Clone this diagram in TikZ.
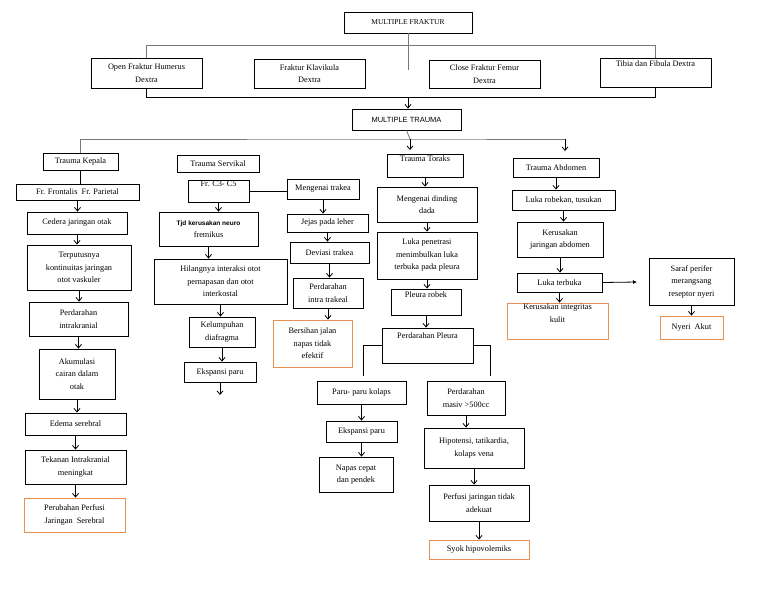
\documentclass[tikz,border=0pt]{standalone}
\usepackage{fontspec}
\setmainfont{Liberation Serif}
\newfontfamily\sansb{Liberation Sans}
\usetikzlibrary{arrows.meta}
\definecolor{orng}{RGB}{233,145,85}
\definecolor{lgray}{RGB}{120,120,120}
\newcommand\bx[7][]{\node[box,#1,minimum width={((#5)-(#3))*1pt},minimum height={((#6)-(#4))*1pt}] (#2) at ({((#3)+(#5))/2},{((#4)+(#6))/2}) {#7};}
\begin{document}
\begin{tikzpicture}[x=1pt,y=-1pt,
  box/.style={draw,line width=0.9pt,inner sep=1pt,align=center,font=\fontsize{8.3}{12.5}\selectfont},
  ob/.style={draw=orng},
  ln/.style={line width=0.8pt},
  gl/.style={line width=0.8pt,draw=lgray},
  arr/.style={line width=0.8pt,-{Straight Barb[length=3.5pt,width=6pt]}}]
\useasboundingbox (0,0) rectangle (768,594);
% top
\bx{mf}{344}{12}{472}{33}{\fontsize{7.5}{9}\selectfont MULTIPLE FRAKTUR}
\bx{b1}{91}{58}{202}{88}{Open Fraktur Humerus\\Dextra}
\bx{b2}{254}{59}{365}{88}{Fraktur Klavikula\\Dextra}
\bx{b3}{429}{60}{540}{88}{Close Fraktur Femur\\Dextra}
\bx{b4}{600}{58}{711}{87}{Tibia dan Fibula Dextra\\[6pt]}
\bx{mt}{352}{109}{461}{130}{\sansb\fontsize{7.5}{9}\selectfont MULTIPLE TRAUMA}
\coordinate (tb) at (408,70);
\coordinate (lb) at (408,97);
\draw[gl] (mf.south) -- (tb);
\draw[gl] (b1.north) -- ++(0,-12) -| (b4.north);
\draw[ln] (b1.south) -- ++(0,9) -| (b4.south);
\draw[arr] (lb) -- (lb |- mt.north);
% level 2
\bx{kep}{43}{153}{118}{170}{Trauma Kepala}
\bx{ser}{177}{155}{259}{172}{Trauma Servikal}
\bx{tor}{387}{155}{463}{177}{Trauma Toraks\\[3pt]}
\bx{abd}{513}{158}{599}{177}{Trauma Abdomen}
\coordinate (mtb) at (410,139);
\coordinate (mtr) at (565,139);
\draw[gl] (mt.south) -- (mtb);
\draw[gl] (kep.north) |- (mtb) -- (mtr);
\draw[arr] (mtb) -- (mtb |- 0,150);
\draw[arr] (mtr) -- (mtr |- 0,151);
% kepala
\bx{fr}{16}{184}{139}{200}{Fr. Frontalis~ Fr. Parietal}
\bx{ced}{27}{212}{127}{234}{Cedera jaringan otak}
\bx{ter}{27}{245}{131}{290}{Terputusnya\\kontinuitas jaringan\\otot vaskuler}
\bx{pik}{29}{302}{128}{336}{Perdarahan\\intrakranial}
\bx{aku}{39}{349}{115}{399}{Akumulasi\\cairan dalam\\otak}
\bx{ede}{25}{413}{126}{435}{Edema serebral}
\bx{tek}{25}{450}{126}{484}{Tekanan Intrakranial\\meningkat}
\bx[ob]{pjs}{24}{498}{125}{532}{Perubahan Perfusi\\Jaringan~ Serebral}
\draw[ln] (kep.south) -- (kep.south |- fr.north);
\foreach \a/\b in {fr/ced,ced/ter,ter/pik,pik/aku,aku/ede,ede/tek,tek/pjs}
  \draw[arr] (\a.south) -- (\a.south |- \b.north);
% servikal
\bx{c3}{188}{182}{249}{201}{Fr. C3- C5\\[2pt]}
\bx{tjd}{159}{212}{258}{246}{\sansb\bfseries\fontsize{6.5}{13}\selectfont Tjd kerusakan neuro\\fremikus}
\bx{hil}{154}{259}{287}{304}{Hilangnya interaksi otot\\pernapasan dan otot\\interkostal}
\bx{kel}{189}{317}{255}{347}{Kelumpuhan\\diafragma}
\bx{eks1}{184}{362}{256}{382}{Ekspansi paru}
\coordinate (e1e) at (220,395);
\foreach \a/\b in {c3/tjd,tjd/hil,hil/kel,kel/eks1}
  \draw[arr] (\a.south) -- (\a.south |- \b.north);
\draw[arr] (eks1.south) -- (e1e);
\bx{men}{287}{179}{359}{199}{Mengenai trakea}
\bx{jej}{287}{214}{368}{232}{Jejas pada leher}
\bx{dev}{290}{242}{369}{263}{Deviasi trakea}
\bx{pit}{293}{278}{363}{308}{Perdarahan\\intra trakeal}
\bx[ob]{ber}{273}{320}{352}{367}{Bersihan jalan\\napas tidak\\efektif}
\draw[ln] (c3.east) -- (c3.east -| men.west);
\foreach \a/\b in {men/jej,jej/dev,dev/pit,pit/ber}
  \draw[arr] (\a.south) -- (\a.south |- \b.north);
% toraks
\bx{mdd}{377}{187}{477}{222}{Mengenai dinding\\dada}
\bx{lpe}{377}{232}{477}{279}{Luka penetrasi\\menimbulkan luka\\terbuka pada pleura}
\bx{pr}{391}{289}{461}{315}{Pleura robek\\[3pt]}
\bx{pp}{382}{328}{473}{363}{Perdarahan Pleura\\[8pt]}
\foreach \a/\b in {tor/mdd,mdd/lpe,lpe/pr,pr/pp}
  \draw[arr] (\a.south) -- (\a.south |- \b.north);
\bx{pk}{317}{381}{406}{404}{Paru- paru kolaps}
\bx{eks2}{326}{421}{397}{442}{Ekspansi paru}
\bx{nap}{319}{457}{393}{492}{Napas cepat\\dan pendek}
\bx{pm}{427}{381}{505}{415}{Perdarahan\\masiv >500cc}
\bx{hip}{424}{428}{524}{468}{Hipotensi, tatikardia,\\kolaps vena}
\bx{pjt}{429}{485}{529}{521}{Perfusi jaringan tidak\\adekuat}
\bx[ob]{syo}{429}{540}{529}{559}{Syok hipovolemiks}
\coordinate (ppl) at (363,376);
\coordinate (ppr) at (490,376);
\draw[ln] (pp.west) -| (ppl);
\draw[ln] (pp.east) -| (ppr);
\foreach \a/\b in {pk/eks2,eks2/nap,pm/hip,hip/pjt,pjt/syo}
  \draw[arr] (\a.south) -- (\a.south |- \b.north);
% abdomen
\bx{lr}{512}{190}{615}{210}{Luka robekan, tusukan}
\bx{kja}{517}{222}{603}{257}{Kerusakan\\jaringan abdomen}
\bx{lt}{517}{273}{602}{292}{Luka terbuka}
\bx[ob]{kik}{507}{303}{608}{339}{Kerusakan integritas\\kulit\\[3pt]}
\bx{sar}{649}{258}{734}{305}{Saraf perifer\\merangsang\\reseptor nyeri}
\bx[ob]{nye}{660}{316}{723}{339}{Nyeri~ Akut}
\coordinate (lta) at (637,282);
\draw[line width=0.8pt,-{Latex[length=4pt,width=4pt]}] (lt.east) -- (lta);
\foreach \a/\b in {abd/lr,lr/kja,kja/lt,lt/kik,sar/nye}
  \draw[arr] (\a.south) -- (\a.south |- \b.north);
\end{tikzpicture}
\end{document}
